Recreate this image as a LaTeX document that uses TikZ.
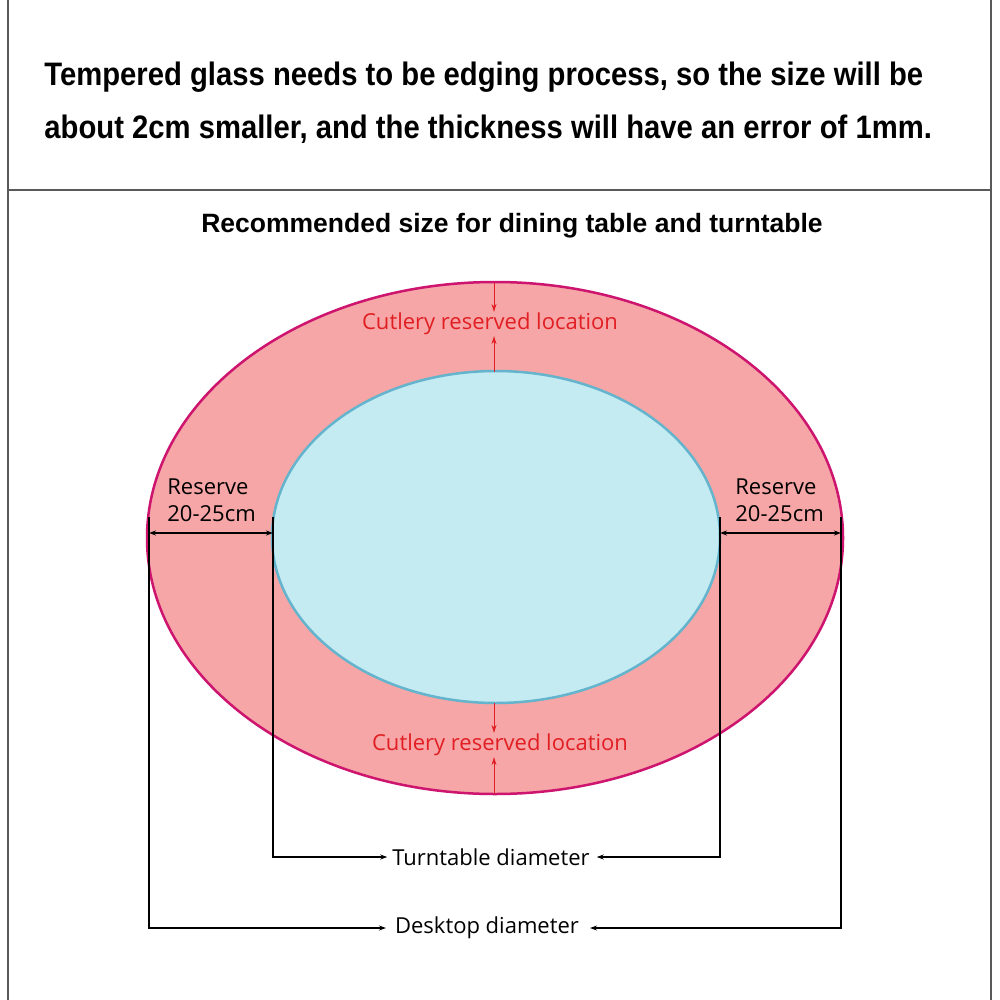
\documentclass[tikz,border=0pt]{standalone}
\usepackage{fontspec}
\setmainfont{Liberation Sans}
\newfontfamily\labelfont{Open Sans}
\newfontfamily\notefont[FakeStretch=0.9]{Liberation Sans}
\usetikzlibrary{arrows.meta}
\definecolor{tablePink}{RGB}{246,166,166}
\definecolor{rimMagenta}{RGB}{205,20,110}
\definecolor{glassBlue}{RGB}{196,234,242}
\definecolor{glassRim}{RGB}{100,180,205}
\definecolor{cutRed}{RGB}{225,30,35}
\tikzset{every picture/.style={line width=0.75pt}}
\tikzset{
  dimline/.style={draw=black,line width=1.2pt},
  dimarrow/.style={dimline,-{Stealth[length=7pt,width=5pt]}},
  redarrow/.style={draw=cutRed,line width=1pt,-{Stealth[length=8pt,width=5pt]}},
  cutlabel/.style={inner sep=0.75pt,text=cutRed,font=\labelfont\fontsize{22}{24}\selectfont},
  blacklabel/.style={inner sep=0.75pt,font=\labelfont\fontsize{22}{27}\selectfont,align=left}
}
\begin{document}
\begin{tikzpicture}[x=1pt,y=1pt,yscale=-1,xscale=1]
\useasboundingbox (0,0) rectangle (1000,1000);
\fill[white] (0,0) rectangle (1000,1000);

%Frame
\draw[line width=1.2pt,draw=gray!70!black] (8,0) -- (8,1000) (991,0) -- (991,1000) (8,190) -- (991,190);

% Text Node
\node[inner sep=0pt,align=left,anchor=west,font=\notefont\bfseries\fontsize{32.5}{53}\selectfont] (note) at (44,103)
  {Tempered glass needs to be edging process, so the size will be\\
   about 2cm smaller, and the thickness will have an error of 1mm.};
% Text Node
\node[inner sep=0pt,font=\bfseries\fontsize{26.5}{28}\selectfont] (title) at (512,226) {Recommended size for dining table and turntable};

%Shape: Ellipses
\draw[fill=tablePink,draw=rimMagenta,line width=2.5pt] (495,538) ellipse [x radius=348, y radius=256];
\draw[fill=glassBlue,draw=glassRim,line width=2.5pt] (496,537) ellipse [x radius=224, y radius=166];

%Coordinates
\coordinate (outerT) at (494,283);
\coordinate (outerB) at (494,794);
\coordinate (innerT) at (494,372);
\coordinate (innerB) at (494,703);
\coordinate (outL) at (149,517);
\coordinate (inL) at (273,517);
\coordinate (inR) at (720,517);
\coordinate (outR) at (841,517);

% Text Node
\node[cutlabel] (cutTop) at (490,324) {Cutlery reserved location};
\node[cutlabel] (cutBot) at (500,745) {Cutlery reserved location};
\draw[redarrow] (outerT) -- (outerT |- cutTop.north);
\draw[redarrow] (innerT) -- (innerT |- cutTop.south);
\draw[redarrow] (innerB) -- (innerB |- cutBot.north);
\draw[redarrow] (outerB) -- (outerB |- cutBot.south);

% Reserve
\node[blacklabel,anchor=south west,inner sep=0pt] (resL) at (167,522) {Reserve\\20-25cm};
\node[blacklabel,anchor=south west,inner sep=0pt] (resR) at (735,522) {Reserve\\20-25cm};
\draw[dimline,{Stealth[length=7pt,width=5pt]}-{Stealth[length=7pt,width=5pt]}] ([yshift=16]outL) -- ([yshift=16]inL);
\draw[dimline,{Stealth[length=7pt,width=5pt]}-{Stealth[length=7pt,width=5pt]}] ([yshift=16]inR) -- ([yshift=16]outR);

% Diameters
\node[blacklabel] (turn) at (491,857) {Turntable diameter};
\node[blacklabel] (desk) at (487,928) {Desktop diameter};
\draw[dimarrow] (inL) |- ([xshift=-4]turn.west);
\draw[dimarrow] (inR) |- ([xshift=6]turn.east);
\draw[dimarrow] (outL) |- ([xshift=-8]desk.west);
\draw[dimarrow] (outR) |- ([xshift=10]desk.east);
\end{tikzpicture}
\end{document}
